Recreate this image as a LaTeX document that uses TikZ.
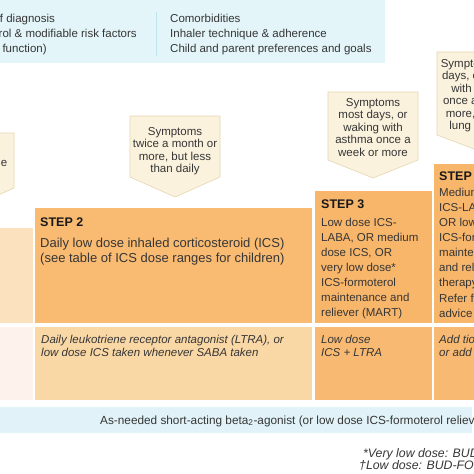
\documentclass[tikz,border=0pt]{standalone}
\usepackage{fontspec}
\setmainfont{Liberation Sans}
\definecolor{topcyan}{HTML}{E3F5F9}
\definecolor{divcyan}{HTML}{BFE4EE}
\definecolor{bandcyan}{HTML}{E1F3F8}
\definecolor{callfill}{HTML}{FBF2DE}
\definecolor{calldraw}{HTML}{E6D6B2}
\definecolor{sonehi}{HTML}{FCE1BE}
\definecolor{sonelo}{HTML}{FEF3EC}
\definecolor{stwohi}{HTML}{F9BB72}
\definecolor{stwolo}{HTML}{FAD8A6}
\definecolor{sthrhi}{HTML}{F8B66B}
\definecolor{sthrlo}{HTML}{F8BA72}
\definecolor{txtgray}{HTML}{363636}
\begin{document}
\begin{tikzpicture}[x=1pt,y=-1pt,
  body/.style={inner sep=0pt, text=txtgray, font=\fontsize{11.5}{15}\selectfont, align=left, anchor=north west},
  bigbody/.style={inner sep=0pt, text=txtgray, font=\fontsize{13}{15}\selectfont, align=left, anchor=north west},
  lowtxt/.style={inner sep=0pt, text=txtgray, font=\fontsize{11.5}{13}\selectfont\itshape, align=left, anchor=north west},
  calltxt/.style={inner sep=0pt, text=txtgray, font=\fontsize{11.5}{12.5}\selectfont, align=center, anchor=north},
  steplbl/.style={inner sep=0pt, text=black!90, font=\fontsize{12.5}{14}\selectfont\bfseries, anchor=base west},
  callout/.style={fill=callfill, draw=calldraw, line width=0.6pt},
  foot/.style={inner sep=0pt, text=txtgray, font=\fontsize{12.3}{13}\selectfont\itshape, anchor=base west}]
\useasboundingbox (0,0) rectangle (474,474);
\clip (0,0) rectangle (474,474);
\fill[white] (0,0) rectangle (474,474);

% top panel
\fill[topcyan] (-5,-5) rectangle (385,63);
\draw[divcyan, line width=1pt] (156,12) -- (156,56);
\node[body] (assessL) at (-75,13.5) {Confirmation of diagnosis\\Symptom control \& modifiable risk factors\\(including lung function)};
\node[body] (assessR) at (170,13.5) {Comorbidities\\Inhaler technique \& adherence\\Child and parent preferences and goals};

% callouts
\filldraw[callout] (-76,133) -- (14,133) -- (14,188) -- (-31,208) -- (-76,188) -- cycle;
\node[inner sep=0pt, text=txtgray, font=\fontsize{11.5}{12.5}\selectfont, anchor=base east] (c0) at (7.5,166.5) {e};

\filldraw[callout] (130,116) -- (220,116) -- (220,177) -- (175,197) -- (130,177) -- cycle;
\node[calltxt] (c1) at (175,127) {Symptoms\\twice a month or\\more, but less\\than daily};

\filldraw[callout] (328,92) -- (418,92) -- (418,160) -- (373,178) -- (328,160) -- cycle;
\node[calltxt] (c2) at (373,98) {Symptoms\\most days, or\\waking with\\asthma once a\\week or more};

\filldraw[callout] (437,52) -- (527,52) -- (527,135) -- (482,152) -- (437,135) -- cycle;
\node[calltxt] (c3) at (482,59) {Symptoms most\\days, or waking\\with asthma\\once a week or\\more, and low\\lung function};

% step blocks (upper)
\fill[sonehi] (-5,228) rectangle (33,323);
\fill[stwohi] (35,208) rectangle (312,323);
\fill[sthrhi] (315,191) rectangle (432,323);
\fill[sthrhi] (434,164) rectangle (480,323);
% step blocks (lower)
\fill[sonelo] (-5,327) rectangle (33,400);
\fill[stwolo] (35,327) rectangle (312,400);
\fill[sthrlo] (315,327) rectangle (432,400);
\fill[sthrlo] (434,327) rectangle (480,400);

\node[steplbl] (s2) at (40,226.5) {STEP 2};
\node[bigbody] (s2t) at (40,237.5) {Daily low dose inhaled corticosteroid (ICS)\\(see table of ICS dose ranges for children)};
\node[steplbl] (s3) at (321,208.5) {STEP 3};
\node[body] (s3t) at (321,218) {Low dose ICS-\\LABA, OR medium\\dose ICS, OR\\very low dose*\\ICS-formoterol\\maintenance and\\reliever (MART)};
\node[steplbl] (s4) at (439,180.5) {STEP 4};
\node[body] (s4t) at (439,188) {Medium dose\\ICS-LABA,\\OR low dose\textsuperscript{†}\\ICS-formoterol\\maintenance\\and reliever\\therapy (MART)};
\node[body] (s4r) at (439,294) {Refer for expert\\advice};

\node[lowtxt] (o2) at (41,335) {Daily leukotriene receptor antagonist (LTRA), or\\low dose ICS taken whenever SABA taken};
\node[lowtxt] (o3) at (321,335) {Low dose\\ICS + LTRA};
\node[lowtxt] (o4) at (439,335) {Add tiotropium\\or add LTRA};

% reliever band
\fill[bandcyan] (0,407) rectangle (472,433);
\node[inner sep=0pt, text=txtgray, font=\fontsize{11.8}{14}\selectfont, anchor=base west] (rel) at (100,424) {As-needed short-acting beta\textsubscript{2}-agonist (or low dose ICS-formoterol reliever\textsuperscript{†})};

% footnotes
\node[foot] (f1) at (363,457) {*Very low dose: BUD-FORM 100/6 micrograms};
\node[foot] (f2) at (359,469.5) {†Low dose: BUD-FORM 200/6 micrograms};
\end{tikzpicture}
\end{document}
